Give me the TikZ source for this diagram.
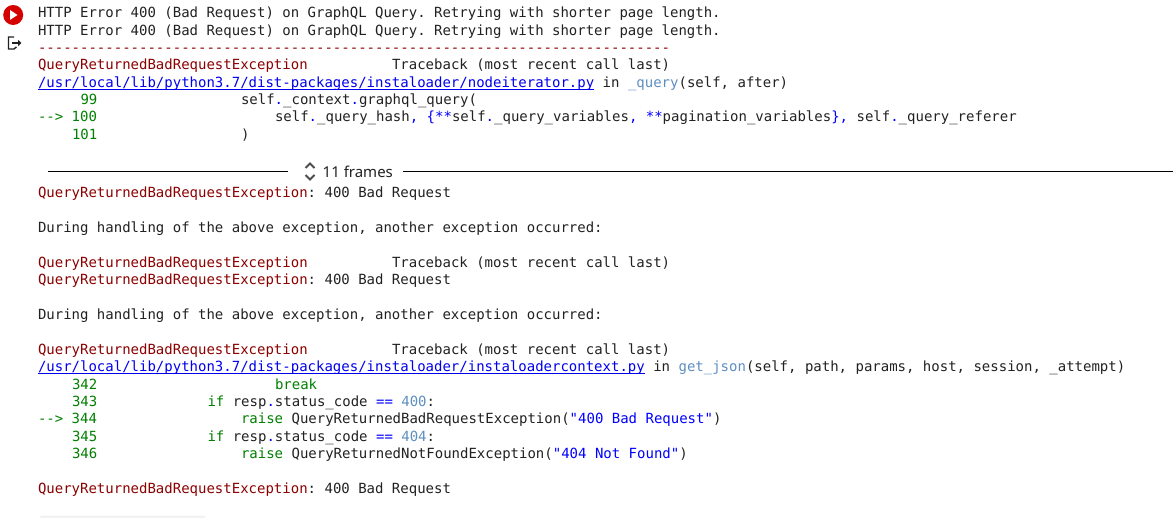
\documentclass[tikz,border=0pt]{standalone}
\usepackage{fontspec}
\setmainfont{Noto Sans}
\setmonofont{DejaVu Sans Mono}
\definecolor{ExcRed}{HTML}{8B0000}
\definecolor{LineGreen}{HTML}{007F00}
\definecolor{LinkBlue}{HTML}{0000EE}
\definecolor{OpBlue}{HTML}{0000FF}
\definecolor{NumBlue}{HTML}{5C8FC0}
\definecolor{BodyGrey}{HTML}{212121}
\definecolor{PlayRed}{HTML}{D50000}
\newsavebox{\lnkbox}
\newcommand{\exc}[1]{\textcolor{ExcRed}{#1}}
\newcommand{\lnk}[1]{\sbox{\lnkbox}{#1}\textcolor{LinkBlue}{\rlap{\rule[-2pt]{\wd\lnkbox}{0.9pt}}#1}}
\newcommand{\opr}[1]{\textcolor{OpBlue}{#1}}
\newcommand{\num}[1]{\textcolor{NumBlue}{#1}}
\newcommand{\kwd}[1]{\textcolor{LineGreen}{#1}}
\tikzset{
  code/.style={anchor=base west, inner sep=0pt, outer sep=0pt, text=BodyGrey,
    font=\fontsize{14}{17}\selectfont\ttfamily},
  lineno/.style={code, text=LineGreen},
  rule/.style={black, line width=1pt},
  chevron/.style={black!70, line width=2pt},
}
\begin{document}
\begin{tikzpicture}[x=1pt,y=-1pt]
\useasboundingbox (0,0) rectangle (1173,518);
% icons
\fill[PlayRed] (13.2,15) circle (10);
\fill[white] (10,10) -- (17.5,15) -- (10,20) -- cycle;
\draw[BodyGrey, line width=1.4pt] (14,37) -- (8.5,37) -- (8.5,49) -- (14,49) -- (16.5,47);
\draw[BodyGrey, line width=1.4pt] (12,43) -- (18,43);
\fill[BodyGrey] (21.5,43) -- (18,39.8) -- (18,46.2) -- cycle;
% first block
\node[code] (http1) at (38,18) {HTTP Error 400 (Bad Request) on GraphQL Query. Retrying with shorter page length.};
\node[code] (http2) at (38,36) {HTTP Error 400 (Bad Request) on GraphQL Query. Retrying with shorter page length.};
\node[code, text=ExcRed] (dash1) at (38,53) {---------------------------------------------------------------------------};
\node[code] (exc1) at (38,70) {\exc{QueryReturnedBadRequestException}};
\node[code] (tb1) at (392,70) {Traceback (most recent call last)};
\node[code] (path1) at (38,88) {\lnk{/usr/local/lib/python3.7/dist-packages/instaloader/nodeiterator.py} in \num{\_query}(self, after)};
\node[lineno] (n99) at (80.5,105) {99};
\node[code] (c99) at (241,105) {self\opr{.}\_context\opr{.}graphql\_query(};
\node[lineno] (n100) at (38,122) {--> 100};
\node[code] (c100) at (275,122) {self\opr{.}\_query\_hash\opr{,} \opr{\{**}self\opr{.}\_query\_variables\opr{,} \opr{**}pagination\_variables\opr{\},} self\opr{.}\_query\_referer};
\node[lineno] (n101) at (72,140) {101};
\node[code] (c101) at (241,140) {)};
% collapsed frames
\draw[rule] (48,171.5) -- (288,171.5);
\draw[rule] (403,171.5) -- (1173,171.5);
\draw[chevron] (305.5,168) -- (310,163.5) -- (314.5,168);
\draw[chevron] (305.5,175) -- (310,179.5) -- (314.5,175);
\node[anchor=base west, inner sep=0pt, text=BodyGrey, font=\fontsize{15}{17}\selectfont] (frames) at (322.5,177.8) {11 frames};
% second block
\node[code] (exc2) at (38,198) {\exc{QueryReturnedBadRequestException}: 400 Bad Request};
\node[code] (during1) at (38,233) {During handling of the above exception, another exception occurred:};
\node[code] (exc3) at (38,268) {\exc{QueryReturnedBadRequestException}};
\node[code] (tb3) at (392,268) {Traceback (most recent call last)};
\node[code] (exc4) at (38,285) {\exc{QueryReturnedBadRequestException}: 400 Bad Request};
\node[code] (during2) at (38,320) {During handling of the above exception, another exception occurred:};
% third block
\node[code] (exc5) at (38,355) {\exc{QueryReturnedBadRequestException}};
\node[code] (tb5) at (392,355) {Traceback (most recent call last)};
\node[code] (path5) at (38,372) {\lnk{/usr/local/lib/python3.7/dist-packages/instaloader/instaloadercontext.py} in \num{get\_json}(self, path, params, host, session, \_attempt)};
\node[lineno] (n342) at (72,390) {342};
\node[code] (c342) at (275,390) {\kwd{break}};
\node[lineno] (n343) at (72,407) {343};
\node[code] (c343) at (207.5,407) {\kwd{if} resp\opr{.}status\_code \opr{==} \num{400}:};
\node[lineno] (n344) at (38,424) {--> 344};
\node[code] (c344) at (241,424) {\kwd{raise} QueryReturnedBadRequestException(\opr{"400 Bad Request"})};
\node[lineno] (n345) at (72,441.5) {345};
\node[code] (c345) at (207.5,441.5) {\kwd{if} resp\opr{.}status\_code \opr{==} \num{404}:};
\node[lineno] (n346) at (72,459) {346};
\node[code] (c346) at (241,459) {\kwd{raise} QueryReturnedNotFoundException(\opr{"404 Not Found"})};
\node[code] (exc6) at (38,493.5) {\exc{QueryReturnedBadRequestException}: 400 Bad Request};
% button shadow
\fill[black!5] (40,518) -- (40,517) to[out=90,in=180] (44,515.5) -- (201,515.5) to[out=0,in=90] (205,517) -- (205,518) -- cycle;
\end{tikzpicture}
\end{document}
